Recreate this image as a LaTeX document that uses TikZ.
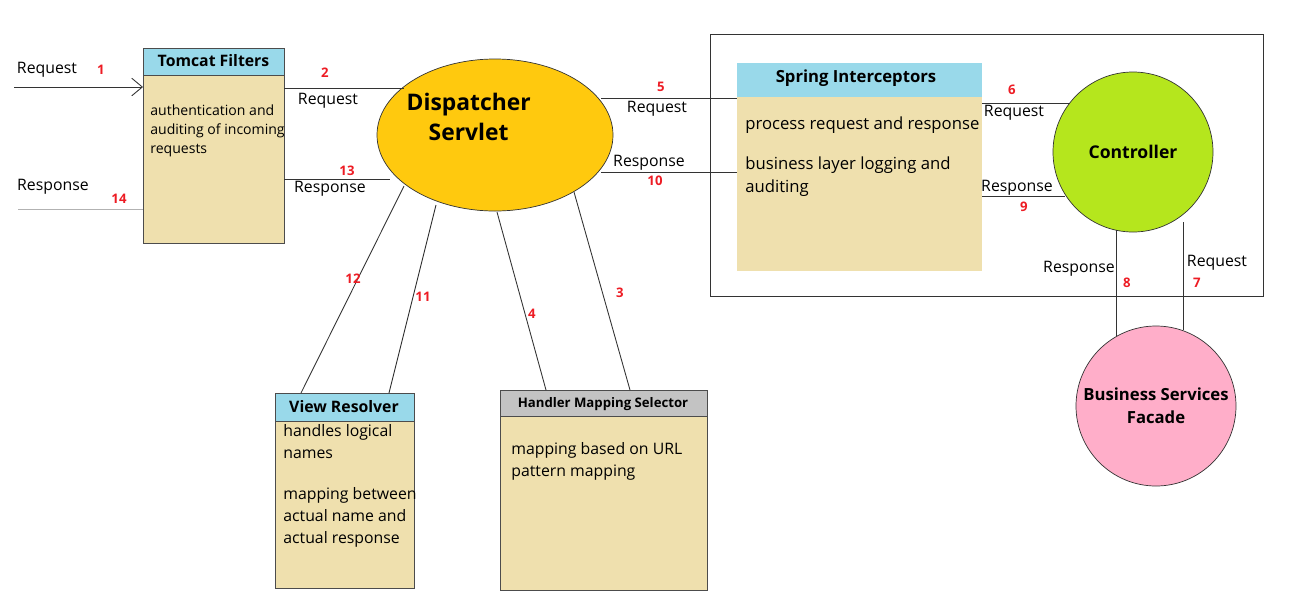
\documentclass[tikz,border=0pt]{standalone}
\usepackage{fontspec}
\setmainfont{Open Sans}
\usetikzlibrary{arrows.meta,shapes.geometric}
\definecolor{tan}{HTML}{EFE0AE}
\definecolor{hblue}{HTML}{99D9EA}
\definecolor{hgrey}{HTML}{C3C3C3}
\definecolor{dyel}{HTML}{FFC90E}
\definecolor{cgreen}{HTML}{B5E61D}
\definecolor{cpink}{HTML}{FFAEC9}
\definecolor{nred}{HTML}{ED1C24}
\begin{document}
\begin{tikzpicture}[x=0.02cm,y=-0.02cm,
 lbl/.style={font=\fontsize{9}{11}\selectfont,inner sep=0},
 num/.style={font=\fontsize{7.5}{9}\selectfont\bfseries,text=nred,inner sep=0},
 body/.style={fill=tan,draw=black!70},
 btxt/.style={font=\fontsize{9}{12.5}\selectfont,align=left,anchor=north west,inner sep=0},
 ln/.style={draw=black!80,line width=0.5pt}]
\useasboundingbox (0,0) rectangle (1289,613);
% Tomcat filters
\path[body] (143,48) rectangle (284,243);
\path[fill=hblue,draw=black!70] (143,48) rectangle (284,75);
\node[font=\fontsize{9}{11}\selectfont\bfseries] (tf) at (213.5,61) {Tomcat Filters};
\node[btxt,font=\fontsize{8}{11}\selectfont] (tft) at (150,104) {authentication and\\auditing of incoming\\requests};
\coordinate (tfl1) at (143,87); \coordinate (tfl2) at (143,209);
\coordinate (in1) at (14,87); \coordinate (in2) at (18,209);
\draw[ln,-{Straight Barb[length=6pt,width=10pt]}] (in1) -- (tfl1);
\draw[black!30] (in2) -- (tfl2);
\node[lbl] (l1) at (47,70) {Request}; \node[num] (n1) at (101,70) {1};
\node[lbl] (l14) at (53,187) {Response}; \node[num] (n14) at (119,199) {14};
% Dispatcher
\node[ellipse,minimum width=236*0.02cm,minimum height=152*0.02cm,inner sep=0,draw=black!80,fill=dyel,align=center,font=\fontsize{13}{17}\selectfont\bfseries] (ds) at (495,135) {\hspace*{-30pt}Dispatcher\\\hspace*{-30pt}Servlet\\[4pt]};
\coordinate (t2) at (284,88); \coordinate (d2) at (404,88);
\coordinate (t13) at (284,179); \coordinate (d13) at (390,179);
\draw[ln] (t2) -- (d2); \draw[ln] (t13) -- (d13);
\node[num] at (325,73) {2}; \node[lbl] at (328,101) {Request};
\node[num] at (347,171) {13}; \node[lbl] at (330,189) {Response};
% outer rect
\draw[black!80] (710,34) rectangle (1263,296);
% Spring interceptors
\path[fill=tan] (737,63) rectangle (982,271);
\path[fill=hblue] (737,63) rectangle (982,97);
\node[font=\fontsize{9.5}{11}\selectfont\bfseries] (si) at (856,78) {Spring Interceptors};
\node[btxt,font=\fontsize{9.5}{13}\selectfont] (sit) at (745,116) {process request and response\\[10pt]business layer logging and\\auditing};
\coordinate (d5) at (601,98); \coordinate (s5) at (737,98);
\coordinate (d10) at (601,172); \coordinate (s10) at (737,172);
\draw[ln] (d5) -- (s5); \draw[ln] (d10) -- (s10);
\node[num] at (661,87) {5}; \node[lbl] at (657,109) {Request};
\node[lbl] at (649,163) {Response}; \node[num] at (655,181) {10};
% Controller
\node[circle,draw=black!80,fill=cgreen,minimum size=160*0.02cm,inner sep=0,font=\fontsize{10}{12}\selectfont\bfseries] (ct) at (1133,152) {Controller};
\coordinate (s6) at (982,103); \coordinate (c6) at (1070,103);
\coordinate (s9) at (982,196); \coordinate (c9) at (1065,196);
\draw[ln] (s6) -- (c6); \draw[ln] (s9) -- (c9);
\node[num] at (1012,90) {6}; \node[lbl] at (1014,113) {Request};
\node[lbl] at (1017,188) {Response}; \node[num] at (1024,207) {9};
% Business services
\node[circle,draw=black!80,fill=cpink,minimum size=160*0.02cm,inner sep=0,align=center,font=\fontsize{9.5}{13}\selectfont\bfseries] (bs) at (1156,406) {Business Services\\Facade};
\coordinate (c8) at (1116,230); \coordinate (b8) at (1116,336);
\coordinate (c7) at (1183,222); \coordinate (b7) at (1183,330);
\draw[ln] (c8) -- (b8); \draw[ln] (c7) -- (b7);
\node[lbl] at (1079,269) {Response}; \node[num] at (1127,283) {8};
\node[lbl] at (1217,263) {Request}; \node[num] at (1197,283) {7};
% View resolver
\path[body] (275,393) rectangle (414,588);
\path[fill=hblue,draw=black!70] (275,393) rectangle (414,421);
\node[font=\fontsize{9}{11}\selectfont\bfseries] (vr) at (344,407) {View Resolver};
\node[btxt] (vrt) at (283,424) {handles logical\\names\\[11pt]mapping between\\actual name and\\actual response};
% Handler mapping
\path[body] (500,390) rectangle (707,590);
\path[fill=hgrey,draw=black!70] (500,390) rectangle (707,416);
\node[font=\fontsize{7.5}{9}\selectfont\bfseries] (hm) at (603,404) {Handler Mapping Selector};
\node[btxt] (hmt) at (511,442) {mapping based on URL\\pattern mapping};
% connectors to boxes
\coordinate (e12) at (404,186); \coordinate (v12) at (301,393);
\coordinate (e11) at (436,205); \coordinate (v11) at (389,393);
\coordinate (e4) at (497,212); \coordinate (h4) at (546,390);
\coordinate (e3) at (574,192); \coordinate (h3) at (630,390);
\draw[ln] (e12) -- (v12); \draw[ln] (e11) -- (v11);
\draw[ln] (e4) -- (h4); \draw[ln] (e3) -- (h3);
\node[num] at (353,279) {12}; \node[num] at (423,297) {11};
\node[num] at (532,314) {4}; \node[num] at (620,293) {3};
\end{tikzpicture}
\end{document}
